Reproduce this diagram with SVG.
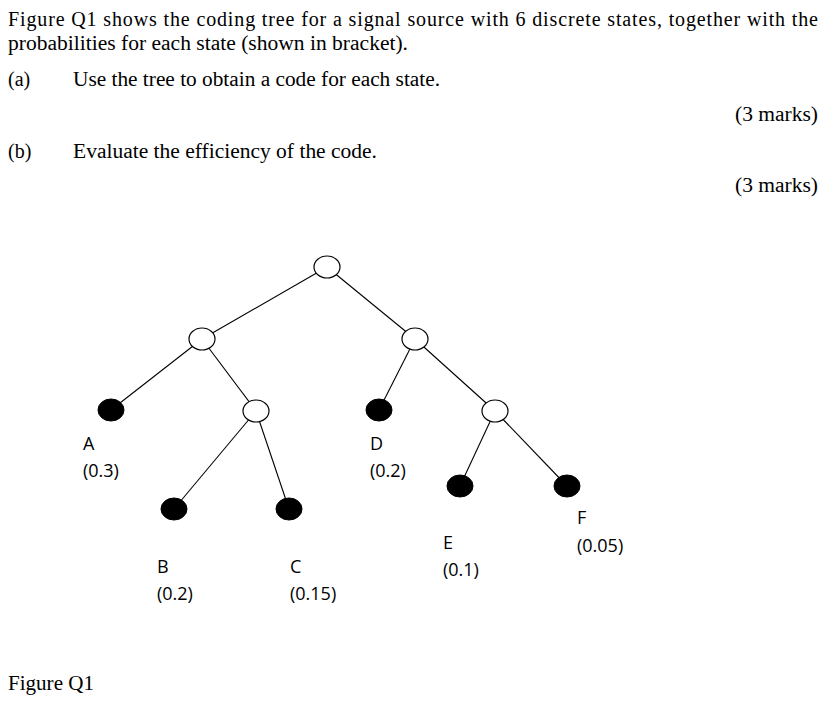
<svg xmlns="http://www.w3.org/2000/svg" width="830" height="705" viewBox="0 0 830 705">
<style>
.s{font-family:"Liberation Serif",serif;font-size:20px;fill:#000}
.l{font-family:"Open Sans","Liberation Sans",sans-serif;font-size:18px;fill:#000}
.o{fill:#fff;stroke:#000;stroke-width:1.2}
.f{fill:#000;stroke:#000}
#edges line{stroke:#000;stroke-width:1.1}
</style>
<rect width="830" height="705" fill="#fff"/>
<text class="s" x="8" y="26" textLength="810" lengthAdjust="spacing">Figure Q1 shows the coding tree for a signal source with 6 discrete states, together with the</text>
<text class="s" x="8" y="50" textLength="400" lengthAdjust="spacingAndGlyphs">probabilities for each state (shown in bracket).</text>
<text class="s" x="8" y="86">(a)</text>
<text class="s" x="73" y="86" textLength="367" lengthAdjust="spacingAndGlyphs">Use the tree to obtain a code for each state.</text>
<text class="s" x="818" y="121" text-anchor="end" textLength="83" lengthAdjust="spacingAndGlyphs">(3 marks)</text>
<text class="s" x="8" y="158">(b)</text>
<text class="s" x="73" y="158" textLength="304" lengthAdjust="spacingAndGlyphs">Evaluate the efficiency of the code.</text>
<text class="s" x="818" y="192" text-anchor="end" textLength="83" lengthAdjust="spacingAndGlyphs">(3 marks)</text>
<text class="s" x="8" y="690" textLength="86" lengthAdjust="spacingAndGlyphs">Figure Q1</text>
<g id="edges">
<line x1="327" y1="267" x2="202" y2="339"/>
<line x1="327" y1="267" x2="415" y2="339"/>
<line x1="202" y1="339" x2="111" y2="410"/>
<line x1="202" y1="339" x2="256" y2="411"/>
<line x1="256" y1="411" x2="174" y2="509"/>
<line x1="256" y1="411" x2="289" y2="509"/>
<line x1="415" y1="339" x2="379" y2="410"/>
<line x1="415" y1="339" x2="495" y2="411"/>
<line x1="495" y1="411" x2="460" y2="486"/>
<line x1="495" y1="411" x2="567" y2="486"/>
</g>
<g id="root"><ellipse class="o" cx="327" cy="267" rx="13" ry="11"/></g>
<g id="n1"><ellipse class="o" cx="202" cy="339" rx="13" ry="11"/></g>
<g id="n2"><ellipse class="o" cx="415" cy="339" rx="13" ry="11"/></g>
<g id="n3"><ellipse class="o" cx="256" cy="411" rx="13" ry="11"/></g>
<g id="n4"><ellipse class="o" cx="495" cy="411" rx="13" ry="11"/></g>
<g id="A"><ellipse class="f" cx="111" cy="410" rx="13" ry="11"/><text class="l" x="83" y="450">A</text><text class="l" x="83" y="477">(0.3)</text></g>
<g id="D"><ellipse class="f" cx="379" cy="410" rx="13" ry="11"/><text class="l" x="370" y="450">D</text><text class="l" x="370" y="477">(0.2)</text></g>
<g id="B"><ellipse class="f" cx="174" cy="509" rx="13" ry="11"/><text class="l" x="157" y="573">B</text><text class="l" x="157" y="600">(0.2)</text></g>
<g id="C"><ellipse class="f" cx="289" cy="509" rx="13" ry="11"/><text class="l" x="290" y="573">C</text><text class="l" x="290" y="600">(0.15)</text></g>
<g id="E"><ellipse class="f" cx="460" cy="486" rx="13" ry="11"/><text class="l" x="443" y="549">E</text><text class="l" x="443" y="576">(0.1)</text></g>
<g id="F"><ellipse class="f" cx="567" cy="486" rx="13" ry="11"/><text class="l" x="577" y="524">F</text><text class="l" x="577" y="552">(0.05)</text></g>
</svg>
